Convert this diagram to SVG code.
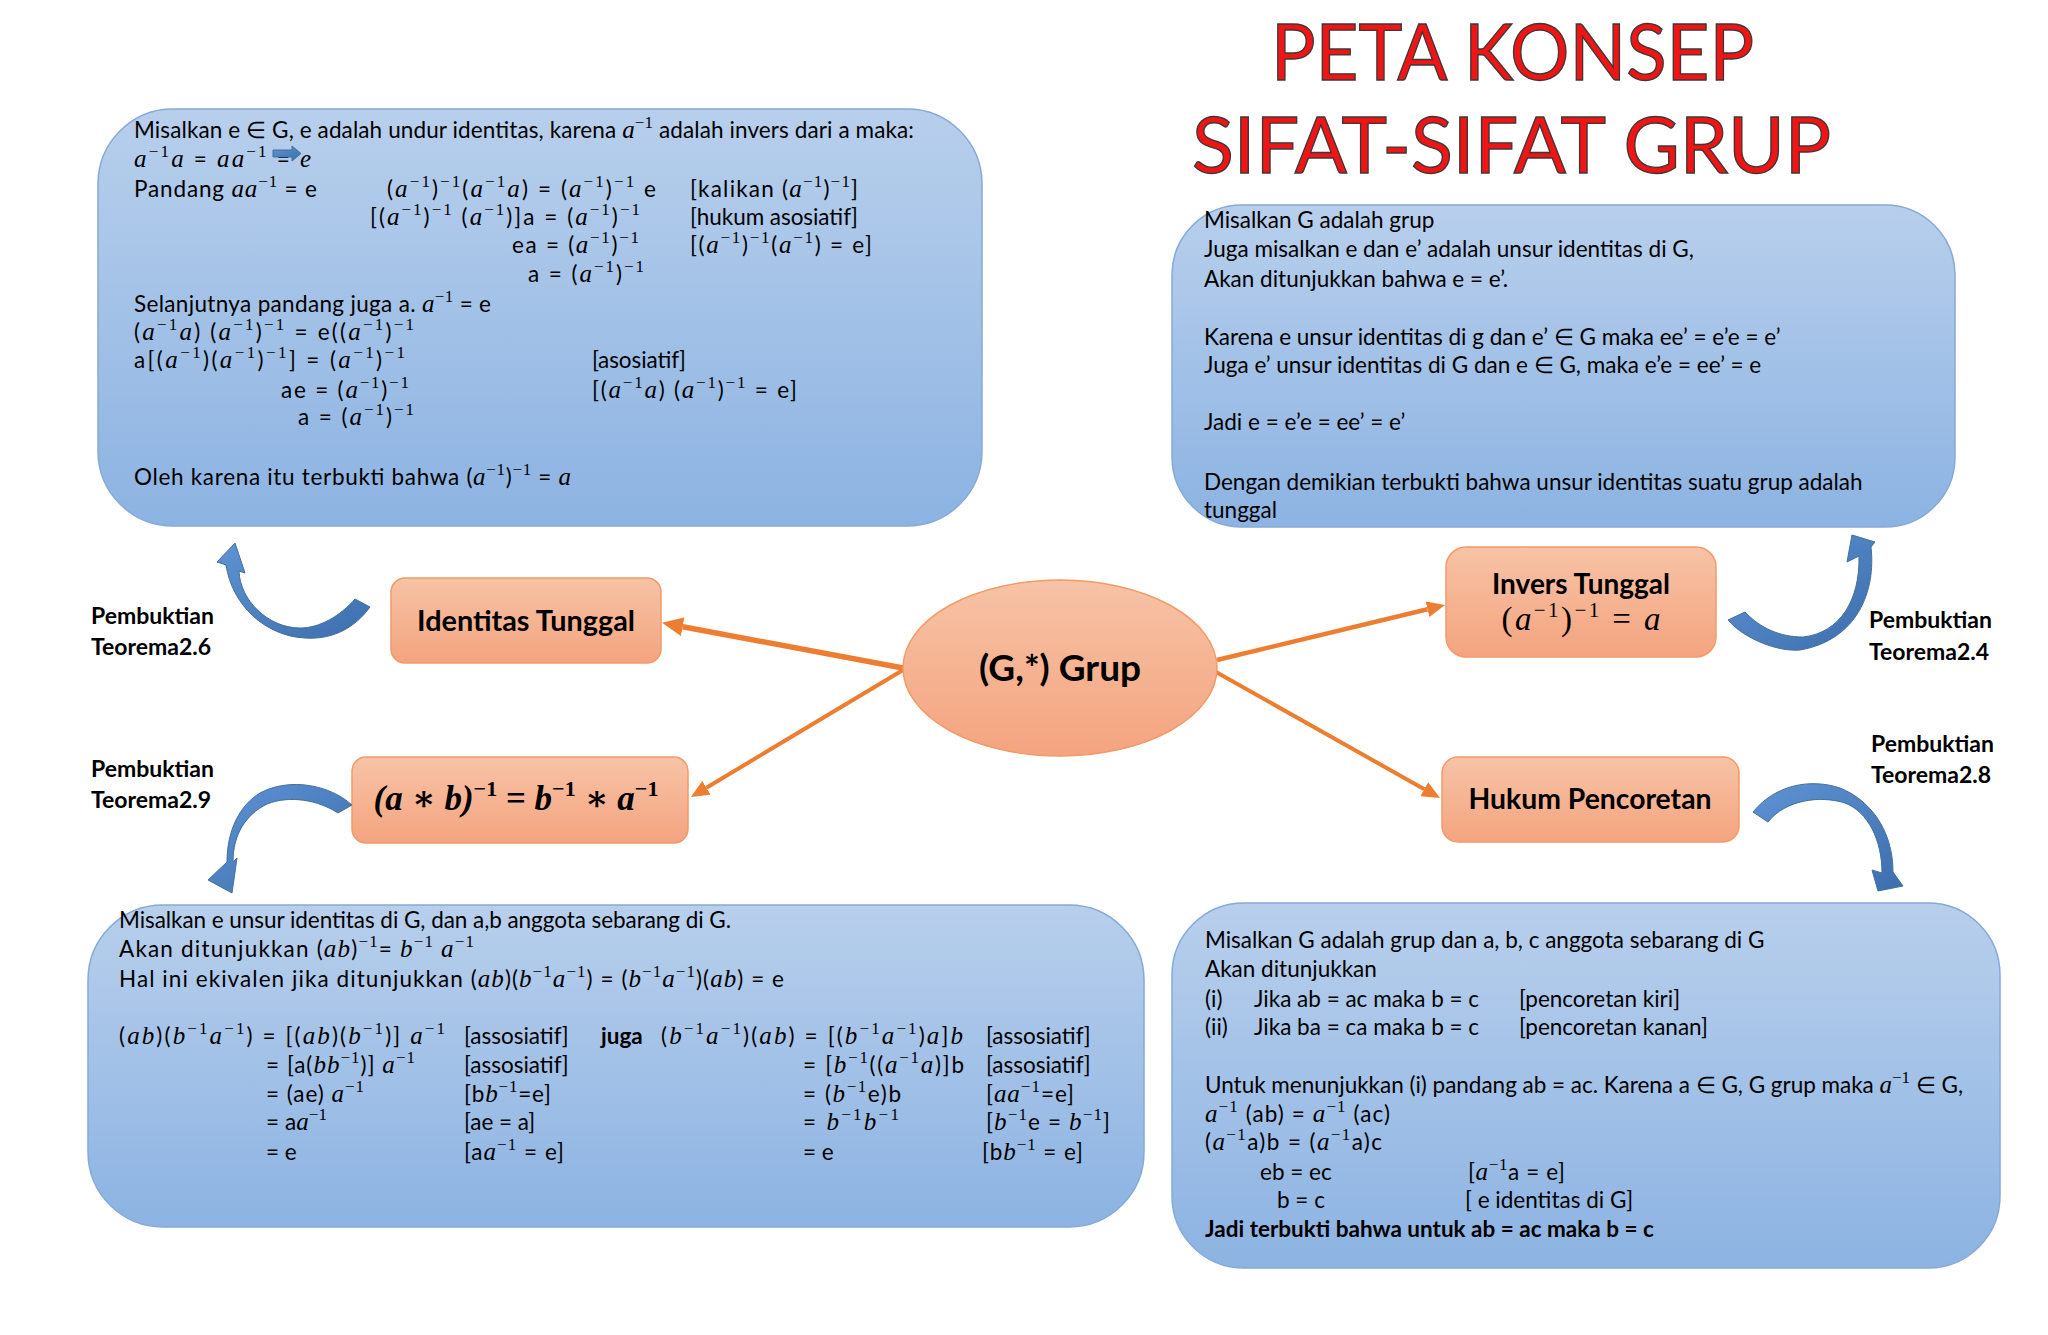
<svg xmlns="http://www.w3.org/2000/svg" width="2048" height="1335" viewBox="0 0 2048 1335">
<defs>
<linearGradient id="gBlue" x1="0" y1="0" x2="0" y2="1">
<stop offset="0" stop-color="#B8CFEC"/>
<stop offset="1" stop-color="#8CB3E2"/>
</linearGradient>
<linearGradient id="gOr" x1="0" y1="0" x2="0" y2="1">
<stop offset="0" stop-color="#F7C3A6"/>
<stop offset="1" stop-color="#F4A47F"/>
</linearGradient>
<linearGradient id="gArr" x1="0" y1="0" x2="1" y2="1">
<stop offset="0" stop-color="#5E93D3"/>
<stop offset="1" stop-color="#3D6EAD"/>
</linearGradient>
<marker id="mA" markerUnits="userSpaceOnUse" markerWidth="21" markerHeight="19" viewBox="0 -9.5 21 19" refX="0" refY="0" orient="auto">
<path d="M0,-9.5 L21,0 L0,9.5 Z" fill="#ED7D31"/>
</marker>
<marker id="mB" markerUnits="userSpaceOnUse" markerWidth="18" markerHeight="16" viewBox="0 -8 18 16" refX="0" refY="0" orient="auto">
<path d="M0,-8 L18,0 L0,8 Z" fill="#ED7D31"/>
</marker>
</defs>
<style>
.box{fill:url(#gBlue);stroke:#86A9D6;stroke-width:1.5}
.node{fill:url(#gOr);stroke:#F29A68;stroke-width:1.5}
.t{font-family:Lato,"Liberation Sans",sans-serif;font-size:22.5px;fill:#000}
.m{font-family:"Liberation Serif","DejaVu Serif",serif;font-style:italic;font-size:25px}
.s{font-family:"Liberation Serif","DejaVu Serif",serif;font-style:normal;font-size:17px;baseline-shift:10px}
.lbl{font-family:Lato,"Liberation Sans",sans-serif;font-size:23px;font-weight:bold;fill:#000}
.nt{font-family:Lato,"Liberation Sans",sans-serif;font-weight:bold;fill:#000;text-anchor:middle}
.title{font-family:Lato,"Liberation Sans",sans-serif;font-size:78px;fill:#F01414;stroke:#3A3A3A;stroke-width:1.4}
.conn{stroke:#ED7D31;fill:none}
.barr{fill:url(#gArr);stroke:#41719C;stroke-width:1}
</style>
<rect width="2048" height="1335" fill="#FFFFFF"/>

<g id="title">
<text class="title" x="1271" y="80" textLength="483" lengthAdjust="spacingAndGlyphs">PETA KONSEP</text>
<text class="title" x="1192" y="173" textLength="639" lengthAdjust="spacingAndGlyphs">SIFAT-SIFAT GRUP</text>
</g>

<g id="box-invers-proof">
<rect class="box" x="98" y="109" width="884" height="417" rx="75" ry="75"/>
<text class="t" x="134" y="138" textLength="780" lengthAdjust="spacing">Misalkan e ∈ G, e adalah undur identitas, karena <tspan class="m">a</tspan><tspan class="s">−1</tspan> adalah invers dari a maka:</text>
<text class="t" x="134" y="167" textLength="177" lengthAdjust="spacing"><tspan class="m">a</tspan><tspan class="s">−1</tspan><tspan class="m">a</tspan> = <tspan class="m">aa</tspan><tspan class="s">−1</tspan> = <tspan class="m">e</tspan></text>
<path d="M273,150 L292,150 L292,146 L301,153.5 L292,161 L292,157 L273,157 Z" fill="url(#gArr)" stroke="#41719C" stroke-width="1"/>
<text class="t" x="134" y="197" textLength="183" lengthAdjust="spacing">Pandang <tspan class="m">aa</tspan><tspan class="s">−1</tspan> = e</text>
<text class="t" x="387" y="197" textLength="269" lengthAdjust="spacing">(<tspan class="m">a</tspan><tspan class="s">−1</tspan>)<tspan class="s">−1</tspan>(<tspan class="m">a</tspan><tspan class="s">−1</tspan><tspan class="m">a</tspan>) = (<tspan class="m">a</tspan><tspan class="s">−1</tspan>)<tspan class="s">−1</tspan> e</text>
<text class="t" x="690" y="197" textLength="168" lengthAdjust="spacing">[kalikan (<tspan class="m">a</tspan><tspan class="s">−1</tspan>)<tspan class="s">−1</tspan>]</text>
<text class="t" x="640" y="225" text-anchor="end" textLength="270" lengthAdjust="spacing">[(<tspan class="m">a</tspan><tspan class="s">−1</tspan>)<tspan class="s">−1</tspan> (<tspan class="m">a</tspan><tspan class="s">−1</tspan>)]a = (<tspan class="m">a</tspan><tspan class="s">−1</tspan>)<tspan class="s">−1</tspan></text>
<text class="t" x="690" y="225" textLength="168" lengthAdjust="spacing">[hukum asosiatif]</text>
<text class="t" x="639" y="253" text-anchor="end" textLength="127" lengthAdjust="spacing">ea = (<tspan class="m">a</tspan><tspan class="s">−1</tspan>)<tspan class="s">−1</tspan></text>
<text class="t" x="690" y="253" textLength="182" lengthAdjust="spacing">[(<tspan class="m">a</tspan><tspan class="s">−1</tspan>)<tspan class="s">−1</tspan>(<tspan class="m">a</tspan><tspan class="s">−1</tspan>) = e]</text>
<text class="t" x="644" y="282" text-anchor="end" textLength="116" lengthAdjust="spacing">a = (<tspan class="m">a</tspan><tspan class="s">−1</tspan>)<tspan class="s">−1</tspan></text>
<text class="t" x="134" y="312" textLength="357" lengthAdjust="spacing">Selanjutnya pandang juga  a. <tspan class="m">a</tspan><tspan class="s">−1</tspan> = e</text>
<text class="t" x="134" y="340" textLength="280" lengthAdjust="spacing">(<tspan class="m">a</tspan><tspan class="s">−1</tspan><tspan class="m">a</tspan>) (<tspan class="m">a</tspan><tspan class="s">−1</tspan>)<tspan class="s">−1</tspan> = e((<tspan class="m">a</tspan><tspan class="s">−1</tspan>)<tspan class="s">−1</tspan></text>
<text class="t" x="134" y="368" textLength="271" lengthAdjust="spacing">a[(<tspan class="m">a</tspan><tspan class="s">−1</tspan>)(<tspan class="m">a</tspan><tspan class="s">−1</tspan>)<tspan class="s">−1</tspan>] = (<tspan class="m">a</tspan><tspan class="s">−1</tspan>)<tspan class="s">−1</tspan></text>
<text class="t" x="592" y="368" textLength="94" lengthAdjust="spacing">[asosiatif]</text>
<text class="t" x="281" y="398" textLength="128" lengthAdjust="spacing">ae = (<tspan class="m">a</tspan><tspan class="s">−1</tspan>)<tspan class="s">−1</tspan></text>
<text class="t" x="592" y="398" textLength="205" lengthAdjust="spacing">[(<tspan class="m">a</tspan><tspan class="s">−1</tspan><tspan class="m">a</tspan>) (<tspan class="m">a</tspan><tspan class="s">−1</tspan>)<tspan class="s">−1</tspan> = e]</text>
<text class="t" x="298" y="425" textLength="116" lengthAdjust="spacing">a = (<tspan class="m">a</tspan><tspan class="s">−1</tspan>)<tspan class="s">−1</tspan></text>
<text class="t" x="134" y="485" textLength="437" lengthAdjust="spacing">Oleh karena itu terbukti bahwa (<tspan class="m">a</tspan><tspan class="s">−1</tspan>)<tspan class="s">−1</tspan> = <tspan class="m">a</tspan></text>
</g>

<g id="box-identitas-proof">
<rect class="box" x="1172" y="205" width="783" height="322" rx="70" ry="70"/>
<text class="t" x="1204" y="228">Misalkan G adalah grup</text>
<text class="t" x="1204" y="257">Juga misalkan e dan e’ adalah unsur identitas di G,</text>
<text class="t" x="1204" y="287">Akan ditunjukkan bahwa e = e’.</text>
<text class="t" x="1204" y="345">Karena e unsur identitas di g dan e’ ∈ G maka ee’ = e’e = e’</text>
<text class="t" x="1204" y="373">Juga e’ unsur identitas di G dan e ∈ G, maka e’e = ee’ = e</text>
<text class="t" x="1204" y="430">Jadi e = e’e = ee’ = e’</text>
<text class="t" x="1204" y="490">Dengan demikian terbukti bahwa unsur identitas suatu grup adalah</text>
<text class="t" x="1204" y="518">tunggal</text>
</g>

<g id="box-ab-proof">
<rect class="box" x="88" y="905" width="1056" height="322" rx="75" ry="75"/>
<text class="t" x="119" y="928" textLength="612" lengthAdjust="spacing">Misalkan e unsur identitas di G, dan a,b anggota sebarang di G.</text>
<text class="t" x="119" y="957" textLength="355" lengthAdjust="spacing">Akan ditunjukkan (<tspan class="m">ab</tspan>)<tspan class="s">−1</tspan>=  <tspan class="m">b</tspan><tspan class="s">−1</tspan> <tspan class="m">a</tspan><tspan class="s">−1</tspan></text>
<text class="t" x="119" y="987" textLength="665" lengthAdjust="spacing">Hal ini ekivalen jika ditunjukkan (<tspan class="m">ab</tspan>)(<tspan class="m">b</tspan><tspan class="s">−1</tspan><tspan class="m">a</tspan><tspan class="s">−1</tspan>) = (<tspan class="m">b</tspan><tspan class="s">−1</tspan><tspan class="m">a</tspan><tspan class="s">−1</tspan>)(<tspan class="m">ab</tspan>) = e</text>
<text class="t" x="119" y="1044" textLength="326" lengthAdjust="spacing">(<tspan class="m">ab</tspan>)(<tspan class="m">b</tspan><tspan class="s">−1</tspan><tspan class="m">a</tspan><tspan class="s">−1</tspan>) = [(<tspan class="m">ab</tspan>)(<tspan class="m">b</tspan><tspan class="s">−1</tspan>)] <tspan class="m">a</tspan><tspan class="s">−1</tspan></text>
<text class="t" x="464" y="1044">[assosiatif]</text>
<text class="t" x="601" y="1044" font-weight="bold">juga</text>
<text class="t" x="661" y="1044" textLength="302" lengthAdjust="spacing">(<tspan class="m">b</tspan><tspan class="s">−1</tspan><tspan class="m">a</tspan><tspan class="s">−1</tspan>)(<tspan class="m">ab</tspan>) = [(<tspan class="m">b</tspan><tspan class="s">−1</tspan><tspan class="m">a</tspan><tspan class="s">−1</tspan>)<tspan class="m">a</tspan>]<tspan class="m">b</tspan></text>
<text class="t" x="986" y="1044">[assosiatif]</text>
<text class="t" x="266" y="1073" textLength="149" lengthAdjust="spacing">= [a(<tspan class="m">bb</tspan><tspan class="s">−1</tspan>)] <tspan class="m">a</tspan><tspan class="s">−1</tspan></text>
<text class="t" x="464" y="1073">[assosiatif]</text>
<text class="t" x="803" y="1073" textLength="161" lengthAdjust="spacing">= [<tspan class="m">b</tspan><tspan class="s">−1</tspan>((<tspan class="m">a</tspan><tspan class="s">−1</tspan><tspan class="m">a</tspan>)]b</text>
<text class="t" x="986" y="1073">[assosiatif]</text>
<text class="t" x="266" y="1102" textLength="98" lengthAdjust="spacing">= (ae) <tspan class="m">a</tspan><tspan class="s">−1</tspan></text>
<text class="t" x="464" y="1102" textLength="87" lengthAdjust="spacing">[b<tspan class="m">b</tspan><tspan class="s">−1</tspan>=e]</text>
<text class="t" x="803" y="1102" textLength="98" lengthAdjust="spacing">= (<tspan class="m">b</tspan><tspan class="s">−1</tspan>e)b</text>
<text class="t" x="986" y="1102" textLength="88" lengthAdjust="spacing">[<tspan class="m">aa</tspan><tspan class="s">−1</tspan>=e]</text>
<text class="t" x="266" y="1130" textLength="61" lengthAdjust="spacing">= a<tspan class="m">a</tspan><tspan class="s">−1</tspan></text>
<text class="t" x="464" y="1130">[ae = a]</text>
<text class="t" x="803" y="1130" textLength="96" lengthAdjust="spacing">= <tspan class="m">b</tspan><tspan class="s">−1</tspan><tspan class="m">b</tspan><tspan class="s">−1</tspan></text>
<text class="t" x="986" y="1130" textLength="124" lengthAdjust="spacing">[<tspan class="m">b</tspan><tspan class="s">−1</tspan>e = <tspan class="m">b</tspan><tspan class="s">−1</tspan>]</text>
<text class="t" x="266" y="1160">= e</text>
<text class="t" x="464" y="1160" textLength="100" lengthAdjust="spacing">[a<tspan class="m">a</tspan><tspan class="s">−1</tspan> = e]</text>
<text class="t" x="803" y="1160">= e</text>
<text class="t" x="982" y="1160" textLength="101" lengthAdjust="spacing">[b<tspan class="m">b</tspan><tspan class="s">−1</tspan> = e]</text>
</g>

<g id="box-pencoretan-proof">
<rect class="box" x="1172" y="903" width="828" height="365" rx="72" ry="72"/>
<text class="t" x="1205" y="948">Misalkan G adalah grup dan a, b, c anggota sebarang  di G</text>
<text class="t" x="1205" y="977">Akan ditunjukkan</text>
<text class="t" x="1205" y="1007">(i)</text>
<text class="t" x="1254" y="1007">Jika ab = ac maka b = c</text>
<text class="t" x="1519" y="1007">[pencoretan kiri]</text>
<text class="t" x="1205" y="1035">(ii)</text>
<text class="t" x="1254" y="1035">Jika ba = ca maka b = c</text>
<text class="t" x="1519" y="1035">[pencoretan kanan]</text>
<text class="t" x="1205" y="1093" textLength="758" lengthAdjust="spacing">Untuk menunjukkan (i) pandang ab = ac. Karena a ∈ G, G grup maka <tspan class="m">a</tspan><tspan class="s">−1</tspan> ∈ G,</text>
<text class="t" x="1205" y="1122" textLength="185" lengthAdjust="spacing"><tspan class="m">a</tspan><tspan class="s">−1</tspan> (ab) = <tspan class="m">a</tspan><tspan class="s">−1</tspan> (ac)</text>
<text class="t" x="1205" y="1150" textLength="177" lengthAdjust="spacing">(<tspan class="m">a</tspan><tspan class="s">−1</tspan>a)b = (<tspan class="m">a</tspan><tspan class="s">−1</tspan>a)c</text>
<text class="t" x="1260" y="1180">eb = ec</text>
<text class="t" x="1468" y="1180" textLength="97" lengthAdjust="spacing">[<tspan class="m">a</tspan><tspan class="s">−1</tspan>a = e]</text>
<text class="t" x="1277" y="1208">b = c</text>
<text class="t" x="1465" y="1208">[ e identitas di G]</text>
<text class="t" x="1205" y="1237" font-weight="bold">Jadi terbukti bahwa untuk ab = ac maka b = c</text>
</g>

<g id="connectors">
<line class="conn" x1="903" y1="668" x2="682.7" y2="626.7" stroke-width="5.5" marker-end="url(#mA)"/>
<line class="conn" x1="903" y1="670" x2="706.4" y2="787.7" stroke-width="4" marker-end="url(#mB)"/>
<line class="conn" x1="1217" y1="660" x2="1427.5" y2="609.2" stroke-width="4.5" marker-end="url(#mB)"/>
<line class="conn" x1="1216" y1="672" x2="1424.3" y2="789.2" stroke-width="4" marker-end="url(#mB)"/>
</g>

<g id="node-grup">
<ellipse class="node" cx="1060" cy="668" rx="157" ry="88"/>
<text class="nt" x="1060" y="681" font-size="37">(G,*) Grup</text>
</g>

<g id="node-identitas">
<rect class="node" x="391" y="578" width="270" height="85" rx="14" ry="14"/>
<text class="nt" x="526" y="631" font-size="28" textLength="218" lengthAdjust="spacingAndGlyphs">Identitas Tunggal</text>
</g>

<g id="node-ab">
<rect class="node" x="352" y="757" width="336" height="86" rx="14" ry="14"/>
<text x="516" y="810" text-anchor="middle" font-family="Liberation Serif, DejaVu Serif, serif" font-weight="bold" font-size="35" fill="#000"><tspan font-style="italic">(a ∗ b)</tspan><tspan font-size="22" baseline-shift="14">−1</tspan> = <tspan font-style="italic">b</tspan><tspan font-size="22" baseline-shift="14">−1</tspan> ∗ <tspan font-style="italic">a</tspan><tspan font-size="22" baseline-shift="14">−1</tspan></text>
</g>

<g id="node-invers">
<rect class="node" x="1446" y="547" width="270" height="110" rx="20" ry="20"/>
<text class="nt" x="1581" y="594" font-size="28">Invers Tunggal</text>
<text x="1581" y="630" text-anchor="middle" font-family="Liberation Serif, DejaVu Serif, serif" font-size="33" fill="#000" textLength="159" lengthAdjust="spacing">(<tspan font-style="italic">a</tspan><tspan font-size="21" baseline-shift="13">−1</tspan>)<tspan font-size="21" baseline-shift="13">−1</tspan> = <tspan font-style="italic">a</tspan></text>
</g>

<g id="node-pencoretan">
<rect class="node" x="1442" y="757" width="297" height="85" rx="16" ry="16"/>
<text class="nt" x="1590" y="809" font-size="28" textLength="243" lengthAdjust="spacingAndGlyphs">Hukum Pencoretan</text>
</g>

<g id="proof-arrows">
<path class="barr" d="M235,543 L245,573 L239,571 C240,600 268,628 300,628 C320,628 340,616 355,599 L370,607 C355,628 332,640 305,638 C265,636 232,605 226,565 L217,562 Z"/>
<path class="barr" d="M1852,535 L1875,542 L1871,547 C1876,590 1858,640 1800,650 C1780,652 1745,640 1728,620 L1745,612 C1760,628 1780,637 1803,637 C1840,633 1860,600 1859,556 L1847,562 Z"/>
<path class="barr" d="M352,805 C330,785 290,777 260,793 C240,805 227,830 227,862 L208,880 L232,893 L237,858 L233,862 C233,835 245,815 267,804 C290,795 318,800 338,813 Z"/>
<path class="barr" d="M1753,812 C1775,785 1810,778 1840,788 C1870,800 1893,830 1893,872 L1903,886 L1878,891 L1872,870 L1882,873 C1882,840 1868,812 1845,803 C1820,795 1785,800 1768,822 Z"/>
</g>

<g id="labels">
<text class="lbl" x="91" y="624">Pembuktian</text>
<text class="lbl" x="91" y="655">Teorema2.6</text>
<text class="lbl" x="91" y="777">Pembuktian</text>
<text class="lbl" x="91" y="808">Teorema2.9</text>
<text class="lbl" x="1869" y="628">Pembuktian</text>
<text class="lbl" x="1869" y="660">Teorema2.4</text>
<text class="lbl" x="1871" y="752">Pembuktian</text>
<text class="lbl" x="1871" y="783">Teorema2.8</text>
</g>
</svg>
